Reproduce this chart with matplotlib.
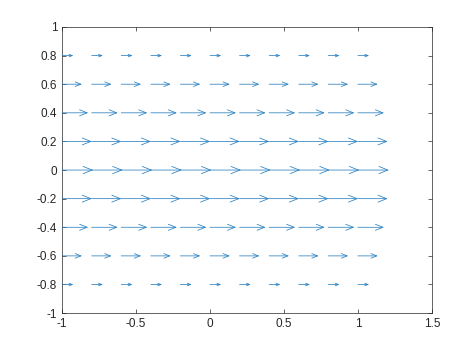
import matplotlib

matplotlib.use("Agg")
import matplotlib.pyplot as plt

# grid of arrow tails
X_POS = [-1.0, -0.8, -0.6, -0.4, -0.2, 0.0, 0.2, 0.4, 0.6, 0.8, 1.0]
Y_POS = [-0.8, -0.6, -0.4, -0.2, 0.0, 0.2, 0.4, 0.6, 0.8]
# horizontal velocity for each row (v = 0 everywhere)
U_ROW = [0.36, 0.64, 0.84, 0.96, 1.0, 0.96, 0.84, 0.64, 0.36]

X_TICKS = [-1, -0.5, 0, 0.5, 1, 1.5]
Y_TICKS = [-1, -0.8, -0.6, -0.4, -0.2, 0, 0.2, 0.4, 0.6, 0.8, 1]

COLOR = "#2a80c0"
SCALE = 0.21  # data length of the longest arrow

plt.rcParams["font.family"] = ["Liberation Sans", "DejaVu Sans"]

fig = plt.figure(figsize=(4.74, 3.55), dpi=100)
ax = fig.add_axes([0.131, 0.118, 0.78, 0.806])

for y, u in zip(Y_POS, U_ROW):
    length = u * SCALE
    hl = 6.5 * u  # points
    hw = 2.6 * u
    for x in X_POS:
        ax.annotate(
            "", xy=(x + length, y), xytext=(x, y),
            arrowprops=dict(
                arrowstyle=f"->,head_length={hl / 10:.3f},head_width={hw / 10:.3f}",
                color=COLOR, lw=0.55, shrinkA=0, shrinkB=0,
            ),
        )

ax.set_xlim(-1, 1.5)
ax.set_ylim(-1, 1)
ax.set_xticks(X_TICKS)
ax.set_xticklabels(["-1", "-0.5", "0", "0.5", "1", "1.5"])
ax.set_yticks(Y_TICKS)
ax.set_yticklabels(["-1", "-0.8", "-0.6", "-0.4", "-0.2", "0", "0.2", "0.4", "0.6", "0.8", "1"])
ax.tick_params(direction="in", top=True, right=True, length=3, width=0.5,
               colors="#262626", labelsize=8.5)
for s in ax.spines.values():
    s.set_color("#262626")
    s.set_linewidth(0.5)

fig.savefig("out.png", dpi=100)
